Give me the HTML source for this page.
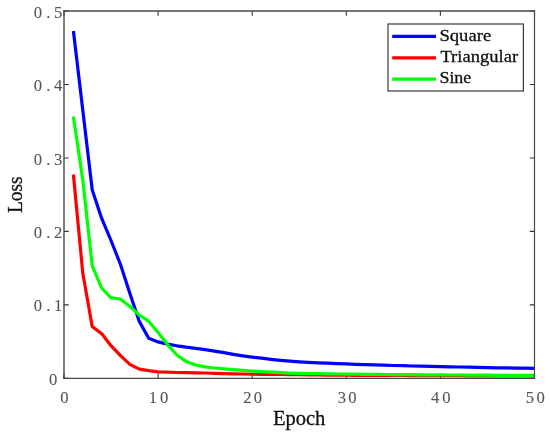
<!DOCTYPE html>
<html><head><meta charset="utf-8"><title>Loss vs Epoch</title>
<style>html,body{margin:0;padding:0;background:#fff;}svg{display:block;}</style></head>
<body><svg width="550" height="436" viewBox="0 0 550 436">
<rect x="0" y="0" width="550" height="436" fill="#fff"/>
<path d="M64.00,378.40v-4.8M64.00,10.95v4.8M64.00,378.40h4.8M534.50,378.40h-4.8M158.10,378.40v-4.8M158.10,10.95v4.8M64.00,304.91h4.8M534.50,304.91h-4.8M252.20,378.40v-4.8M252.20,10.95v4.8M64.00,231.42h4.8M534.50,231.42h-4.8M346.30,378.40v-4.8M346.30,10.95v4.8M64.00,157.93h4.8M534.50,157.93h-4.8M440.40,378.40v-4.8M440.40,10.95v4.8M64.00,84.44h4.8M534.50,84.44h-4.8M534.50,378.40v-4.8M534.50,10.95v4.8M64.00,10.95h4.8M534.50,10.95h-4.8" stroke="#333" stroke-width="1.1" fill="none"/>
<polyline points="73.4,31.0 82.8,110.2 92.2,189.7 101.6,218.2 111.0,240.5 120.5,264.5 129.9,293.6 139.3,321.4 148.7,338.3 158.1,341.9 167.5,344.1 176.9,345.8 186.3,347.2 195.7,348.3 205.2,349.6 214.6,351.1 224.0,352.7 233.4,354.3 242.8,355.8 252.2,357.1 261.6,358.2 271.0,359.3 280.4,360.3 289.8,361.1 299.2,361.8 308.7,362.3 318.1,362.8 327.5,363.2 336.9,363.6 346.3,363.9 355.7,364.3 365.1,364.6 374.5,364.9 383.9,365.2 393.4,365.5 402.8,365.7 412.2,366.0 421.6,366.2 431.0,366.4 440.4,366.6 449.8,366.8 459.2,367.0 468.6,367.2 478.0,367.4 487.4,367.6 496.9,367.8 506.3,367.9 515.7,368.1 525.1,368.2 534.5,368.3" fill="none" stroke="#0000ff" stroke-width="3.2" stroke-linejoin="round"/>
<polyline points="73.4,174.5 82.8,273.3 92.2,326.5 101.6,333.6 111.0,345.7 120.5,355.6 129.9,364.4 139.3,369.1 148.7,370.7 158.1,371.8 167.5,372.2 176.9,372.5 186.3,372.6 195.7,372.8 205.2,373.0 214.6,373.3 224.0,373.6 233.4,373.8 242.8,374.0 252.2,374.2 261.6,374.3 271.0,374.4 280.4,374.5 289.8,374.6 299.2,374.7 308.7,374.8 318.1,374.9 327.5,375.1 336.9,375.2 346.3,375.2 355.7,375.3 365.1,375.4 374.5,375.4 383.9,375.5 393.4,375.5 402.8,375.5 412.2,375.6 421.6,375.6 431.0,375.6 440.4,375.7 449.8,375.7 459.2,375.7 468.6,375.8 478.0,375.8 487.4,375.8 496.9,375.8 506.3,375.9 515.7,375.9 525.1,375.9 534.5,375.9" fill="none" stroke="#ff0000" stroke-width="3.2" stroke-linejoin="round"/>
<polyline points="73.4,116.4 82.8,180.0 92.2,265.6 101.6,288.0 111.0,297.9 120.5,299.0 129.9,306.4 139.3,315.1 148.7,321.2 158.1,332.5 167.5,344.6 176.9,355.0 186.3,361.6 195.7,365.0 205.2,366.9 214.6,368.0 224.0,368.9 233.4,369.7 242.8,370.4 252.2,371.0 261.6,371.6 271.0,372.2 280.4,372.7 289.8,373.1 299.2,373.4 308.7,373.6 318.1,373.7 327.5,373.9 336.9,374.0 346.3,374.1 355.7,374.2 365.1,374.3 374.5,374.4 383.9,374.5 393.4,374.6 402.8,374.7 412.2,374.7 421.6,374.8 431.0,374.9 440.4,374.9 449.8,375.0 459.2,375.0 468.6,375.1 478.0,375.2 487.4,375.2 496.9,375.3 506.3,375.3 515.7,375.3 525.1,375.4 534.5,375.4" fill="none" stroke="#00ff00" stroke-width="3.2" stroke-linejoin="round"/>
<path d="M63.30,378.40H535.10" stroke="#474747" stroke-width="1.1" fill="none"/>
<path d="M63.30,10.95H535.10" stroke="#474747" stroke-width="1.4" fill="none"/>
<path d="M64.00,10.25V378.95" stroke="#474747" stroke-width="1.4" fill="none"/>
<path d="M534.50,10.25V378.95" stroke="#474747" stroke-width="1.2" fill="none"/>
<text y="17.8" style="font-family:'Liberation Serif','DejaVu Serif',serif;font-size:16.6px;fill:#555;stroke:#555;stroke-width:0.1px" text-anchor="middle"><tspan x="38">0</tspan><tspan x="48.4">.</tspan><tspan x="58.2">5</tspan></text>
<text y="91.2" style="font-family:'Liberation Serif','DejaVu Serif',serif;font-size:16.6px;fill:#555;stroke:#555;stroke-width:0.1px" text-anchor="middle"><tspan x="38">0</tspan><tspan x="48.4">.</tspan><tspan x="58.2">4</tspan></text>
<text y="164.6" style="font-family:'Liberation Serif','DejaVu Serif',serif;font-size:16.6px;fill:#555;stroke:#555;stroke-width:0.1px" text-anchor="middle"><tspan x="38">0</tspan><tspan x="48.4">.</tspan><tspan x="58.2">3</tspan></text>
<text y="238.0" style="font-family:'Liberation Serif','DejaVu Serif',serif;font-size:16.6px;fill:#555;stroke:#555;stroke-width:0.1px" text-anchor="middle"><tspan x="38">0</tspan><tspan x="48.4">.</tspan><tspan x="58.2">2</tspan></text>
<text y="311.4" style="font-family:'Liberation Serif','DejaVu Serif',serif;font-size:16.6px;fill:#555;stroke:#555;stroke-width:0.1px" text-anchor="middle"><tspan x="38">0</tspan><tspan x="48.4">.</tspan><tspan x="58.2">1</tspan></text>
<text x="53.2" y="384.8" style="font-family:'Liberation Serif','DejaVu Serif',serif;font-size:16.6px;fill:#555;stroke:#555;stroke-width:0.1px" text-anchor="middle">0</text>
<text y="403.3" style="font-family:'Liberation Serif','DejaVu Serif',serif;font-size:16.6px;fill:#555;stroke:#555;stroke-width:0.1px" text-anchor="middle"><tspan x="64.5">0</tspan></text>
<text y="403.3" style="font-family:'Liberation Serif','DejaVu Serif',serif;font-size:16.6px;fill:#555;stroke:#555;stroke-width:0.1px" text-anchor="middle"><tspan x="152.9">1</tspan><tspan x="164.2">0</tspan></text>
<text y="403.3" style="font-family:'Liberation Serif','DejaVu Serif',serif;font-size:16.6px;fill:#555;stroke:#555;stroke-width:0.1px" text-anchor="middle"><tspan x="247.4">2</tspan><tspan x="258.0">0</tspan></text>
<text y="403.3" style="font-family:'Liberation Serif','DejaVu Serif',serif;font-size:16.6px;fill:#555;stroke:#555;stroke-width:0.1px" text-anchor="middle"><tspan x="341.9">3</tspan><tspan x="352.5">0</tspan></text>
<text y="403.3" style="font-family:'Liberation Serif','DejaVu Serif',serif;font-size:16.6px;fill:#555;stroke:#555;stroke-width:0.1px" text-anchor="middle"><tspan x="435.1">4</tspan><tspan x="446.4">0</tspan></text>
<text y="403.3" style="font-family:'Liberation Serif','DejaVu Serif',serif;font-size:16.6px;fill:#555;stroke:#555;stroke-width:0.1px" text-anchor="middle"><tspan x="530.0">5</tspan><tspan x="540.6">0</tspan></text>
<text transform="translate(299.1,425.1) scale(1.01,1)" text-anchor="middle" style="font-family:'Liberation Serif','DejaVu Serif',serif;fill:#111;stroke:#111;stroke-width:0.3px;font-size:20.3px">Epoch</text>
<text transform="translate(21.6,194.7) rotate(-90) scale(0.95,1)" text-anchor="middle" style="font-family:'Liberation Serif','DejaVu Serif',serif;fill:#111;stroke:#111;stroke-width:0.3px;font-size:20.5px">Loss</text>
<rect x="388.0" y="24.0" width="135.4" height="67.0" fill="#fff" stroke="#333" stroke-width="1.15"/>
<line x1="392.2" y1="36.4" x2="436" y2="36.4" stroke="#0000ff" stroke-width="3.2"/>
<text transform="translate(439.4,40.5) scale(1.06,1)" style="font-family:'Liberation Serif','DejaVu Serif',serif;fill:#111;stroke:#111;stroke-width:0.3px;font-size:17.6px">Square</text>
<line x1="392.2" y1="57.8" x2="436" y2="57.8" stroke="#ff0000" stroke-width="3.2"/>
<text transform="translate(440.4,61.5) scale(1.055,1)" style="font-family:'Liberation Serif','DejaVu Serif',serif;fill:#111;stroke:#111;stroke-width:0.3px;font-size:17.6px">Triangular</text>
<line x1="392.2" y1="79.2" x2="436" y2="79.2" stroke="#00ff00" stroke-width="3.2"/>
<text transform="translate(439.4,83.2) scale(1.021,1)" style="font-family:'Liberation Serif','DejaVu Serif',serif;fill:#111;stroke:#111;stroke-width:0.3px;font-size:17.6px">Sine</text>
</svg></body></html>
